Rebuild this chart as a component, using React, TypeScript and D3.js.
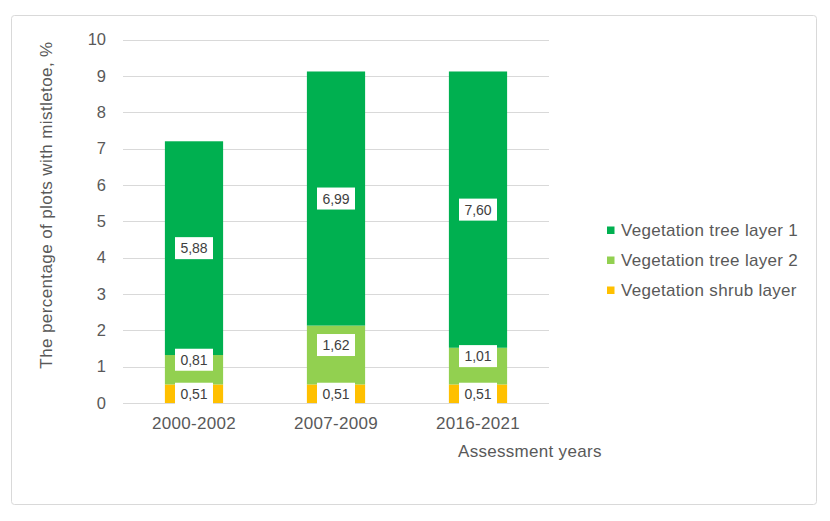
import { useEffect, useRef } from "react";
import * as d3 from "d3";

const categories = ["2000-2002", "2007-2009", "2016-2021"];
const seriesNames = ["Vegetation shrub layer", "Vegetation tree layer 2", "Vegetation tree layer 1"];
const shrubLayer = [0.51, 0.51, 0.51];
const treeLayer2 = [0.81, 1.62, 1.01];
const treeLayer1 = [5.88, 6.99, 7.6];
const yTicks = [0, 1, 2, 3, 4, 5, 6, 7, 8, 9, 10];
const colors = ["#FFC000", "#92D050", "#00B050"];
const legendOrder = [2, 1, 0];

export default function App() {
  const svgRef = useRef<SVGSVGElement | null>(null);

  useEffect(() => {
    if (!svgRef.current) return;
    const svg = d3.select(svgRef.current);
    svg.selectAll("*").remove();
    const width = 830;
    const height = 521;
    const font = "Liberation Sans, Arial, sans-serif";
    const textColor = "#595959";

    svg.attr("width", width).attr("height", height);
    svg.append("rect").attr("width", width).attr("height", height).attr("fill", "#fff");
    svg.append("rect")
      .attr("x", 11.5).attr("y", 15.5).attr("width", 805).attr("height", 489)
      .attr("rx", 3).attr("fill", "#fff").attr("stroke", "#d9d9d9").attr("stroke-width", 1);

    const x = d3.scaleBand<string>().domain(categories).range([123, 549]).paddingInner(0.59).paddingOuter(0.295);
    const y = d3.scaleLinear().domain([0, 10]).range([403, 39.5]);

    const rows = categories.map((c, i) => ({ cat: c, s0: shrubLayer[i], s1: treeLayer2[i], s2: treeLayer1[i] }));
    const stack = d3.stack<any>().keys(["s0", "s1", "s2"]);
    const layers = stack(rows);

    // gridlines
    svg.append("g").selectAll("line").data(yTicks).enter().append("line")
      .attr("x1", 123).attr("x2", 549)
      .attr("y1", (d) => Math.round(y(d)) + 0.5).attr("y2", (d) => Math.round(y(d)) + 0.5)
      .attr("stroke", "#d9d9d9").attr("stroke-width", 1);

    // y tick labels
    svg.append("g").selectAll("text").data(yTicks).enter().append("text")
      .attr("x", 106).attr("y", (d) => y(d)).attr("dy", "0.35em")
      .attr("text-anchor", "end").attr("font-family", font).attr("font-size", 16.5).attr("fill", textColor)
      .text((d) => String(d));

    // bars
    layers.forEach((layer, li) => {
      svg.append("g").selectAll("rect").data(layer).enter().append("rect")
        .attr("x", (d) => x(d.data.cat) as number)
        .attr("width", x.bandwidth())
        .attr("y", (d) => y(d[1]))
        .attr("height", (d) => y(d[0]) - y(d[1]))
        .attr("fill", colors[li]);
    });

    // data labels
    const labelOffset = [0, -10, 0];
    layers.forEach((layer, li) => {
      layer.forEach((d) => {
        const cx = (x(d.data.cat) as number) + x.bandwidth() / 2;
        const cy = y((d[0] + d[1]) / 2) + labelOffset[li];
        const val = d[1] - d[0];
        const g = svg.append("g");
        g.append("rect").attr("x", cx - 19).attr("y", cy - 11).attr("width", 38).attr("height", 22).attr("fill", "#fff");
        g.append("text").attr("x", cx).attr("y", cy).attr("dy", "0.36em")
          .attr("text-anchor", "middle").attr("font-family", font).attr("font-size", 14).attr("fill", "#404040")
          .text(val.toFixed(2).replace(".", ","));
      });
    });

    // x tick labels
    svg.append("g").selectAll("text").data(categories).enter().append("text")
      .attr("x", (d) => (x(d) as number) + x.bandwidth() / 2).attr("y", 429)
      .attr("text-anchor", "middle").attr("font-family", font).attr("font-size", 17)
      .attr("letter-spacing", 0.3).attr("fill", textColor)
      .text((d) => d);

    // axis titles
    svg.append("text").attr("x", 458).attr("y", 457)
      .attr("font-family", font).attr("font-size", 17).attr("letter-spacing", 0.3)
      .attr("fill", textColor).text("Assessment years");
    svg.append("text").attr("transform", "translate(52,205) rotate(-90)")
      .attr("text-anchor", "middle").attr("font-family", font).attr("font-size", 17)
      .attr("letter-spacing", 0.4).attr("fill", textColor)
      .text("The percentage of plots with mistletoe, %");

    // legend
    const legend = svg.append("g");
    legendOrder.forEach((si, i) => {
      const cy = 230 + i * 30;
      legend.append("rect").attr("x", 607).attr("y", cy - 3.5).attr("width", 7.5).attr("height", 7.5).attr("fill", colors[si]);
      legend.append("text").attr("x", 621).attr("y", cy).attr("dy", "0.36em")
        .attr("font-family", font).attr("font-size", 17).attr("letter-spacing", 0.3)
        .attr("fill", textColor).text(seriesNames[si]);
    });
  }, []);

  return <svg ref={svgRef} style={{ position: "absolute", left: 0, top: 0, display: "block" }} />;
}
